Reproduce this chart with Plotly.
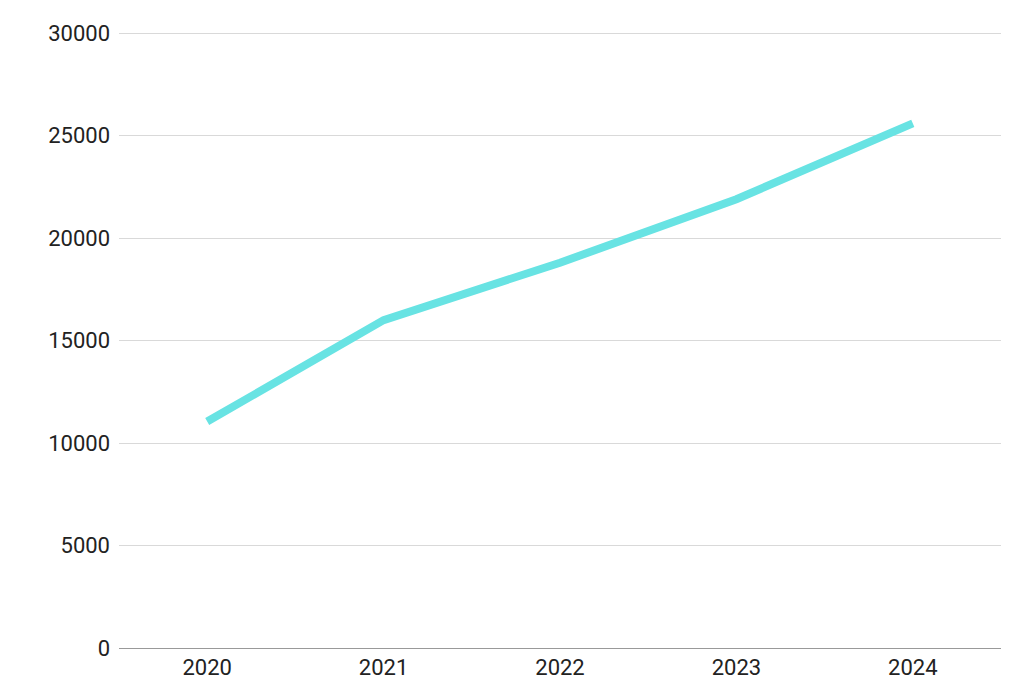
import plotly.graph_objects as go

years = ["2020", "2021", "2022", "2023", "2024"]
values = [11050, 16000, 18800, 21900, 25600]

fig = go.Figure(go.Scatter(
    x=years, y=values, mode="lines",
    line=dict(color="#68e3e3", width=8),
))

fig.update_layout(
    width=1024, height=687,
    margin=dict(l=111, r=31, t=24, b=47),
    plot_bgcolor="white", paper_bgcolor="white",
    showlegend=False,
    font=dict(family="Roboto", size=22, color="#222222"),
    xaxis=dict(type="category", range=[-0.5, 4.5], showgrid=False,
               showline=True, linecolor="#999999", ticks=""),
    yaxis=dict(range=[0, 30060], dtick=5000, tickformat="d", gridcolor="#d9d9d9",
               zeroline=False, ticks="", ticklabelstandoff=8),
)

fig.write_html("out.html")
